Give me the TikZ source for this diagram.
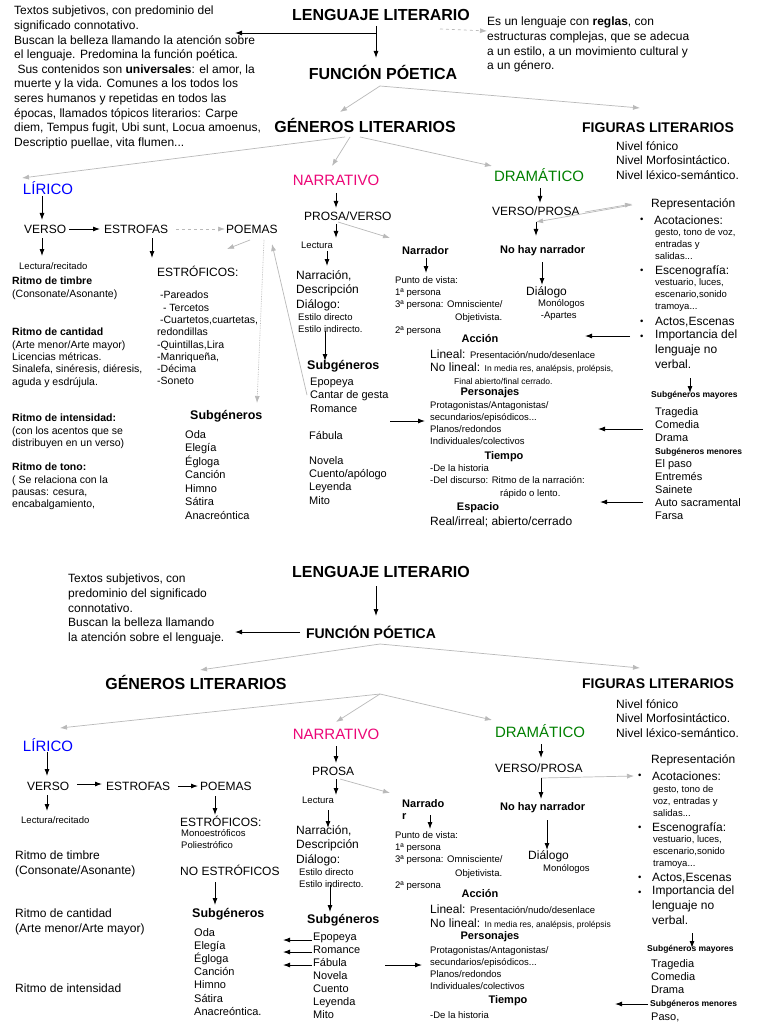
\documentclass[tikz,border=0pt]{standalone}
\usepackage{fontspec}
\setmainfont{Liberation Sans}
\usetikzlibrary{arrows.meta}
\begin{document}
\begin{tikzpicture}[x=1pt,y=-1pt,
 every node/.style={inner sep=0pt,anchor=west,align=left},
 tx/.style={font=\fontsize{12}{14.6}\selectfont},
 sm/.style={font=\fontsize{9.5}{12.3}\selectfont},
 md/.style={font=\fontsize{10.5}{12.3}\selectfont},
 mb/.style={font=\bfseries\fontsize{11}{12.3}\selectfont},
 bb/.style={font=\bfseries\fontsize{12.5}{14}\selectfont},
 hd/.style={font=\bfseries\fontsize{16}{18}\selectfont,anchor=center},
 hs/.style={font=\bfseries\fontsize{14}{16}\selectfont,anchor=center},
 gen/.style={font=\fontsize{15}{17}\selectfont,anchor=center},
 blk/.style={anchor=north west},
 ar/.style={-{Latex[length=7pt,width=5pt]},line width=0.9pt},
 ga/.style={-{Latex[length=7pt,width=5pt]},draw=gray!55,line width=0.7pt}]
\useasboundingbox (0,0) rectangle (768,1024);
\fill[white] (0,0) rectangle (768,1024);
% ================= TOP =================
\node[hd] (ll1) at (381,15) {LENGUAJE LITERARIO};
\node[tx,blk] (lb1) at (14,6) {Textos subjetivos, con predominio del\\significado connotativo.\\Buscan la belleza llamando la atención sobre\\el lenguaje. Predomina la función poética.\\\ Sus contenidos son \textbf{universales}: el amor, la\\muerte y la vida. Comunes a los todos los\\seres humanos y repetidas en todos las\\épocas, llamados tópicos literarios: Carpe\\diem, Tempus fugit, Ubi sunt, Locua amoenus,\\Descriptio puellae, vita flumen...};
\node[tx,blk] (rb1) at (487,17) {Es un lenguaje con \textbf{reglas}, con\\estructuras complejas, que se adecua\\a un estilo, a un movimiento cultural y\\a un género.};
\node[hd] (fp1) at (383,72) {FUNCIÓN PÓETICA};
\coordinate (c1) at (376,33);
\draw[ar] (376,26) -- (376,58);
\draw[ar] (c1) -- (235,33);
\draw[ga,dashed] (440,29) -- (487,31);
\node[hd] (gl1) at (365,125) {GÉNEROS LITERARIOS};
\node[hs] (fl1) at (658,128) {FIGURAS LITERARIOS};
\draw[ga] (380,86) -- (340,112);
\draw[ga] (380,86) -- (640,108);
\node[tx,blk] (fig1) at (616,141) {Nivel fónico\\Nivel Morfosintáctico.\\Nivel léxico-semántico.};
\node[gen,text=blue] (li1) at (48,188) {LÍRICO};
\node[gen,text=magenta!80!red] (na1) at (336,180) {NARRATIVO};
\node[gen,text=green!50!black] (dr1) at (539,175) {DRAMÁTICO};
\draw[ga] (345,137) -- (22,178);
\draw[ga] (350,137) -- (332,166);
\draw[ga] (360,137) -- (492,166);
% lirico
\draw[ar] (42,196) -- (42,220);
\node[tx] (ve1) at (24,229) {VERSO};
\node[tx] (es1) at (104,229) {ESTROFAS};
\node[tx] (po1) at (226,229) {POEMAS};
\draw[ar] (ve1.east)++(3,0) -- (100,229);
\draw[ga,dashed] (176,229) -- (225,229);
\draw[ar] (42,238) -- (42,256);
\node[sm] at (19,266) {Lectura/recitado};
\draw[ar] (152,238) -- (152,258);
\node[tx] at (157,271) {ESTRÓFICOS:};
\draw[ga] (250,240) -- (227,249);
\node[md,blk] at (157,291) {\ -Pareados\\\ \ - Tercetos\\\ -Cuartetos,cuartetas,\\redondillas\\-Quintillas,Lira\\-Manriqueña,\\-Décima\\-Soneto};
\draw[ga,densely dotted] (264,240) -- (257,403);
\draw[ga] (307,395) -- (272,244);
\node[md,blk] at (12,277) {\textbf{Ritmo de timbre}\\(Consonate/Asonante)};
\node[md,blk] at (12,328) {\textbf{Ritmo de cantidad}\\(Arte menor/Arte mayor)\\Licencias métricas.\\Sinalefa, sinéresis, diéresis,\\aguda y esdrújula.};
\node[md,blk] at (12,414) {\textbf{Ritmo de intensidad:}\\(con los acentos que se\\distribuyen en un verso)};
\node[md,blk] at (12,463) {\textbf{Ritmo de tono:}\\( Se relaciona con la\\pausas: cesura,\\encabalgamiento,};
\node[bb] at (190,416) {Subgéneros};
\node[font=\fontsize{11}{13.5}\selectfont,blk] at (185,430) {Oda\\Elegía\\Égloga\\Canción\\Himno\\Sátira\\Anacreóntica};
% narrativo
\draw[ar] (336,193) -- (336,208);
\node[tx] (pv1) at (304,216) {PROSA/VERSO};
\draw[ar] (336,224) -- (336,238);
\draw[ga] (338,222) -- (390,238);
\node[sm] at (301,245) {Lectura};
\draw[ar] (327,251) -- (327,266);
\node[tx,blk] at (296,270) {Narración,\\Descripción\\Diálogo:};
\node[sm,blk] at (298,313) {Estilo directo\\Estilo indirecto.};
\draw[ar] (325,331) -- (325,361);
\node[bb] at (307,366) {Subgéneros};
\node[font=\fontsize{11}{13.2}\selectfont,blk] at (310,378) {Epopeya\\Cantar de gesta\\Romance};
\node[font=\fontsize{11}{13}\selectfont] at (309,436) {Fábula};
\node[font=\fontsize{11}{13.3}\selectfont,blk] at (309,456) {Novela\\Cuento/apólogo\\Leyenda\\Mito};
\node[mb] at (402,251) {Narrador};
\draw[ar] (426,258) -- (426,273);
\node[sm,blk] at (395,276) {Punto de vista:\\1ª persona\\3ª persona: Omnisciente/};
\node[sm] at (455,318) {Objetivista.};
\node[sm] at (395,331) {2ª persona};
\draw[ar] (390,421) -- (425,421);
% dramatico
\draw[ar] (540,188) -- (540,203);
\node[tx] (vp1) at (492,211) {VERSO/PROSA};
\draw[ga] (585,212) -- (632,204);
\draw[ga] (632,205) -- (536,222);
\draw[ar] (536,222) -- (536,236);
\node[mb] at (500,251) {No hay narrador};
\draw[ar] (542,262) -- (542,285);
\node[tx] at (526,292) {Diálogo};
\node[sm,blk] at (538,299) {Monólogos\\\ -Apartes};
\node[tx] at (651,204) {Representación};
\foreach \yy in {220,271,322,337} \node[sm] at (640,\yy) {•};
\node[tx] at (654,220) {Acotaciones:};
\node[sm,blk] at (655,228) {gesto, tono de voz,\\entradas y\\salidas...};
\node[tx] at (655,271) {Escenografía:};
\node[sm,blk] at (655,278) {vestuario, luces,\\escenario,sonido\\tramoya...};
\node[tx] at (655,322) {Actos,Escenas};
\node[tx,blk] at (655,330) {Importancia del\\lenguaje no\\verbal.};
\draw[ar] (690,378) -- (690,393);
\node[font=\bfseries\fontsize{8.5}{11}\selectfont] at (651,395) {Subgéneros mayores};
\node[font=\fontsize{11}{13.2}\selectfont,blk] at (655,407) {Tragedia\\Comedia\\Drama};
\node[font=\bfseries\fontsize{8.5}{11}\selectfont] at (655,452) {Subgéneros menores};
\node[font=\fontsize{11}{13.2}\selectfont,blk] at (655,459) {El paso\\Entremés\\Sainete\\Auto sacramental\\Farsa};
\draw[ar] (630,336) -- (585,336);
\draw[ar] (643,429) -- (598,429);
\draw[ar] (643,502) -- (600,502);
\node[mb,anchor=center] at (480,339) {Acción};
\node[tx] at (430,354) {Lineal: {\fontsize{9.5}{11}\selectfont Presentación/nudo/desenlace}};
\node[tx] at (430,368) {No lineal: {\fontsize{8.5}{11}\selectfont In media res, analépsis, prolépsis,}};
\node[font=\fontsize{8.5}{11}\selectfont] at (454,381) {Final abierto/final cerrado.};
\node[mb,anchor=center] at (490,393) {Personajes};
\node[sm,blk] at (430,401) {Protagonistas/Antagonistas/\\secundarios/episódicos...\\Planos/redondos\\Individuales/colectivos};
\node[mb,anchor=center] at (504,457) {Tiempo};
\node[sm,blk] at (430,464) {-De la historia\\-Del discurso: Ritmo de la narración:};
\node[sm] at (500,494) {rápido o lento.};
\node[mb,anchor=center] at (478,508) {Espacio};
\node[tx] at (430,522) {Real/irreal; abierto/cerrado};
% ================= BOTTOM =================
\node[hd] (ll2) at (381,572) {LENGUAJE LITERARIO};
\node[tx,blk] (lb2) at (68,574) {Textos subjetivos, con\\predominio del significado\\connotativo.\\Buscan la belleza llamando\\la atención sobre el lenguaje.};
\node[hs] (fp2) at (371,632) {FUNCIÓN PÓETICA};
\draw[ar] (376,586) -- (376,616);
\draw[ar] (300,632) -- (235,632);
\node[hd] (gl2) at (196,682) {GÉNEROS LITERARIOS};
\node[hs] (fl2) at (658,684) {FIGURAS LITERARIOS};
\draw[ga] (380,644) -- (200,670);
\draw[ga] (380,644) -- (640,668);
\node[tx,blk] at (616,699) {Nivel fónico\\Nivel Morfosintáctico.\\Nivel léxico-semántico.};
\node[gen,text=blue] (li2) at (48,745) {LÍRICO};
\node[gen,text=magenta!80!red] (na2) at (336,734) {NARRATIVO};
\node[gen,text=green!50!black] (dr2) at (540,731) {DRAMÁTICO};
\draw[ga] (380,694) -- (60,728);
\draw[ga] (380,694) -- (336,722);
\draw[ga] (380,694) -- (492,720);
\draw[ar] (47,752) -- (47,776);
\node[tx] at (27,786) {VERSO};
\node[tx] at (106,786) {ESTROFAS};
\node[tx] at (200,786) {POEMAS};
\draw[ar] (77,784) -- (102,784);
\draw[ar] (178,786) -- (198,786);
\draw[ar] (47,795) -- (47,811);
\node[sm] at (21,820) {Lectura/recitado};
\draw[ar] (215,796) -- (215,815);
\node[tx] at (180,821) {ESTRÓFICOS:};
\node[sm,blk] at (181,829) {Monoestróficos\\Poliestrófico};
\node[tx] at (180,870) {NO ESTRÓFICOS};
\draw[ar] (215,882) -- (215,905);
\node[bb] at (192,914) {Subgéneros};
\node[font=\fontsize{11}{13.2}\selectfont,blk] at (194,928) {Oda\\Elegía\\Égloga\\Canción\\Himno\\Sátira\\Anacreóntica.};
\node[tx,blk] at (15,851) {Ritmo de timbre\\(Consonate/Asonante)};
\node[tx,blk] at (15,909) {Ritmo de cantidad\\(Arte menor/Arte mayor)};
\node[tx] at (15,988) {Ritmo de intensidad};
\draw[ar] (336,746) -- (336,763);
\node[tx] at (312,771) {PROSA};
\draw[ar] (336,779) -- (336,795);
\draw[ga] (340,779) -- (390,793);
\node[sm] at (302,800) {Lectura};
\draw[ar] (328,810) -- (328,828);
\node[tx,blk] at (296,825) {Narración,\\Descripción\\Diálogo:};
\node[sm,blk] at (299,868) {Estilo directo\\Estilo indirecto.};
\draw[ar] (330,885) -- (330,912);
\node[bb] at (307,920) {Subgéneros};
\node[font=\fontsize{11}{13}\selectfont,blk] at (313,933) {Epopeya\\Romance\\Fábula\\Novela\\Cuento\\Leyenda\\Mito};
\draw[ar] (312,940) -- (283,940);
\draw[ar] (312,952) -- (283,952);
\draw[ar] (312,965) -- (283,965);
\draw[ar] (385,965) -- (422,965);
\node[mb,blk] at (402,799) {Narrado\\r};
\draw[ar] (430,815) -- (430,829);
\node[sm,blk] at (395,831) {Punto de vista:\\1ª persona\\3ª persona: Omnisciente/};
\node[sm] at (455,874) {Objetivista.};
\node[sm] at (395,886) {2ª persona};
\draw[ar] (541,744) -- (541,758);
\node[tx] at (495,768) {VERSO/PROSA};
\draw[ga] (541,778) -- (634,776);
\draw[ar] (541,778) -- (541,799);
\node[mb] at (500,808) {No hay narrador};
\draw[ar] (547,820) -- (547,850);
\node[tx] at (528,856) {Diálogo};
\node[sm] at (543,869) {Monólogos};
\node[tx] at (651,760) {Representación};
\foreach \yy in {776,828,878,893} \node[sm] at (638,\yy) {•};
\node[tx] at (652,776) {Acotaciones:};
\node[sm,blk] at (653,785) {gesto, tono de\\voz, entradas y\\salidas...};
\node[tx] at (652,828) {Escenografía:};
\node[sm,blk] at (653,835) {vestuario, luces,\\escenario,sonido\\tramoya...};
\node[tx] at (652,878) {Actos,Escenas};
\node[tx,blk] at (652,886) {Importancia del\\lenguaje no\\verbal.};
\draw[ar] (692,933) -- (692,948);
\node[font=\bfseries\fontsize{8.5}{11}\selectfont] at (647,949) {Subgéneros mayores};
\node[font=\fontsize{11}{13.2}\selectfont,blk] at (651,959) {Tragedia\\Comedia\\Drama};
\draw[ar] (648,1004) -- (615,1004);
\node[font=\bfseries\fontsize{8.5}{11}\selectfont] at (650,1004) {Subgéneros menores};
\node[font=\fontsize{11}{13}\selectfont] at (651,1017) {Paso,};
\node[mb,anchor=center] at (480,894) {Acción};
\node[tx] at (430,909) {Lineal: {\fontsize{9.5}{11}\selectfont Presentación/nudo/desenlace}};
\node[tx] at (430,924) {No lineal: {\fontsize{8.5}{11}\selectfont In media res, analépsis, prolépsis}};
\node[mb,anchor=center] at (490,937) {Personajes};
\node[sm,blk] at (430,946) {Protagonistas/Antagonistas/\\secundarios/episódicos...\\Planos/redondos\\Individuales/colectivos};
\node[mb,anchor=center] at (508,1001) {Tiempo};
\node[sm] at (430,1015) {-De la historia};
\end{tikzpicture}
\end{document}
